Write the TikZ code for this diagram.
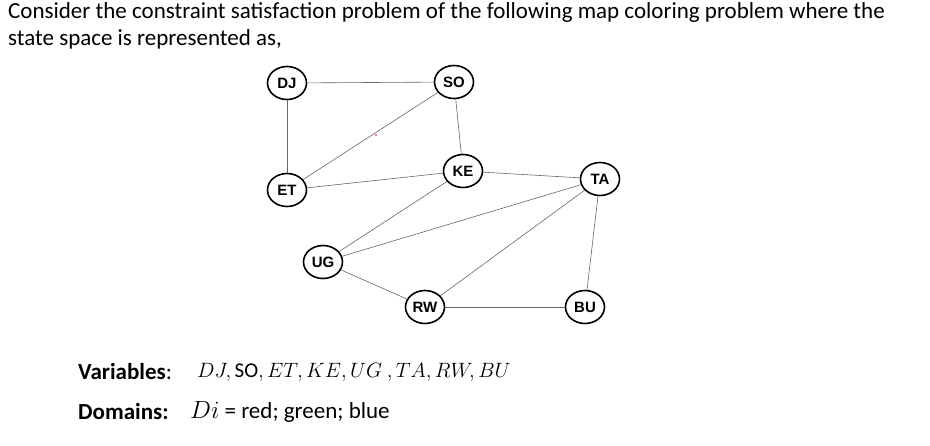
\documentclass[tikz,border=0pt]{standalone}
\usepackage{fontspec}
\setmainfont{Carlito}
\newfontfamily\arialfont{Liberation Sans}
\usetikzlibrary{shapes.geometric}

\begin{document}
\begin{tikzpicture}[x=1pt, y=-1pt,
  staat/.style={draw, ellipse, line width=1.6pt, minimum width=39pt, minimum height=33pt,
                inner sep=0pt, font=\arialfont\fontsize{15}{17}\selectfont\bfseries},
  kant/.style={draw=gray!80!black, line width=0.6pt},
  tekst/.style={anchor=west, inner sep=0pt, font=\fontsize{23}{27}\selectfont}
]
\useasboundingbox (0,0) rectangle (930,445);

\node[tekst, anchor=north west, align=left] (kop) at (8,2)
  {Consider the constraint satisfaction problem of the following map coloring problem where the\\
   state space is represented as,};

\node[staat] (dj) at (287,83)  {DJ};
\node[staat] (so) at (454,82)  {SO};
\node[staat] (et) at (287,190) {ET};
\node[staat] (ke) at (463,171) {KE};
\node[staat] (ta) at (600,179) {TA};
\node[staat] (ug) at (323,262) {UG};
\node[staat] (rw) at (425,307) {RW};
\node[staat] (bu) at (585,307) {BU};

\draw[kant] (dj) -- (so);
\draw[kant] (dj) -- (et);
\draw[kant] (et) -- (so);
\draw[kant] (so) -- (ke);
\draw[kant] (et) -- (ke);
\draw[kant] (ug) -- (ke);
\draw[kant] (ke) -- (ta);
\draw[kant] (ug) -- (ta);
\draw[kant] (rw) -- (ta);
\draw[kant] (ug) -- (rw);
\draw[kant] (rw) -- (bu);
\draw[kant] (ta) -- (bu);
\fill[red] (376,135) circle (0.8pt);

\node[tekst] (var) at (78,372) {\textbf{Variables}:};
\node[tekst, font=\fontsize{21}{27}\selectfont] (varlijst) at (197,372)
  {$DJ, \mathrm{SO}, ET, KE, UG\ , TA, RW, BU$};
\node[tekst] (dom) at (78,412) {\textbf{Domains:}};
\node[tekst] (domlijst) at (190,412) {$Di$ = red; green; blue};
\end{tikzpicture}
\end{document}
